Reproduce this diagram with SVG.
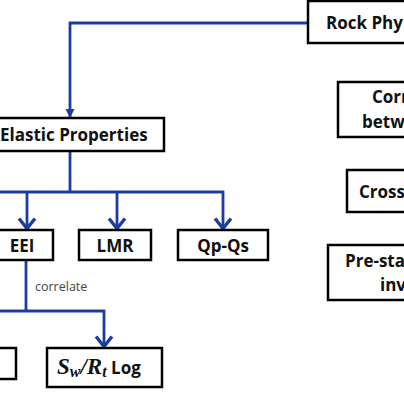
<svg xmlns="http://www.w3.org/2000/svg" width="404" height="404" viewBox="0 0 404 404">
<style>
.box{fill:#fff;stroke:#000;stroke-width:2.5}
.t{font-family:"Open Sans","Liberation Sans",sans-serif;font-weight:bold;font-size:17px;fill:#111}
.c{fill:none;stroke:#1c3d9e;stroke-width:2.8;stroke-linejoin:miter}
.lbl{font-family:"Open Sans","Liberation Sans",sans-serif;font-size:12.5px;fill:#444}
.m{font-family:"Liberation Serif","DejaVu Serif",serif;font-weight:bold;font-style:italic;fill:#111}
</style>
<defs>
<marker id="tri" viewBox="0 0 10 10" refX="10" refY="5" markerWidth="9" markerHeight="9" orient="auto" markerUnits="userSpaceOnUse">
<path d="M0,0 L10,5 L0,10 Z" fill="#1c3d9e"/>
</marker>
<marker id="chev" viewBox="0 0 14 20" refX="12" refY="10" markerWidth="14" markerHeight="20" orient="auto" markerUnits="userSpaceOnUse">
<path d="M1.5,2 L11.5,10 L1.5,18" fill="none" stroke="#1c3d9e" stroke-width="3.4"/>
</marker>
</defs>
<rect width="404" height="404" fill="#fff"/>
<g id="connectors">
<path class="c" d="M308,23 H70 V118" marker-end="url(#tri)"/>
<path class="c" d="M70,151 V192"/>
<path class="c" d="M0,192 H223 V229" marker-end="url(#chev)"/>
<path class="c" d="M27,192 V229" marker-end="url(#chev)"/>
<path class="c" d="M117,192 V229" marker-end="url(#chev)"/>
<path class="c" d="M26,260 V311"/>
<path class="c" d="M0,311 H104 V347" marker-end="url(#chev)"/>
<text class="lbl" x="35" y="291">correlate</text>
</g>
<g id="rock">
<rect class="box" x="308" y="1" width="110" height="42"/>
<text class="t" x="326" y="29">Rock Phy</text>
</g>
<g id="corr">
<rect class="box" x="338" y="82" width="80" height="55"/>
<text class="t" x="372" y="103">Corr</text>
<text class="t" x="362" y="128">betw</text>
</g>
<g id="cross">
<rect class="box" x="347" y="170" width="70" height="42"/>
<text class="t" x="359" y="198">Cross</text>
</g>
<g id="prestack">
<rect class="box" x="328" y="245" width="90" height="55"/>
<text class="t" x="345" y="267">Pre-sta</text>
<text class="t" x="380" y="291">inv</text>
</g>
<g id="elastic">
<rect class="box" x="-20" y="118" width="184" height="33"/>
<text class="t" x="0" y="141">Elastic Properties</text>
</g>
<g id="eei">
<rect class="box" x="-9" y="230" width="62" height="30"/>
<text class="t" x="22" y="252" text-anchor="middle">EEI</text>
</g>
<g id="lmr">
<rect class="box" x="79" y="230" width="72" height="30"/>
<text class="t" x="115" y="252" text-anchor="middle">LMR</text>
</g>
<g id="qpqs">
<rect class="box" x="178" y="230" width="90" height="30"/>
<text class="t" x="223" y="252" text-anchor="middle">Qp-Qs</text>
</g>
<g id="left-bottom">
<rect class="box" x="-20" y="348" width="36" height="31"/>
</g>
<g id="swrt">
<rect class="box" x="47" y="348" width="115" height="39"/>
<text x="57" y="374"><tspan class="m" font-size="23">S</tspan><tspan class="m" font-size="16" dy="3">w</tspan><tspan class="m" font-size="23" dy="-3">/R</tspan><tspan class="m" font-size="16" dy="3">t</tspan><tspan class="t" font-size="18" dy="-3"> Log</tspan></text>
</g>
</svg>
